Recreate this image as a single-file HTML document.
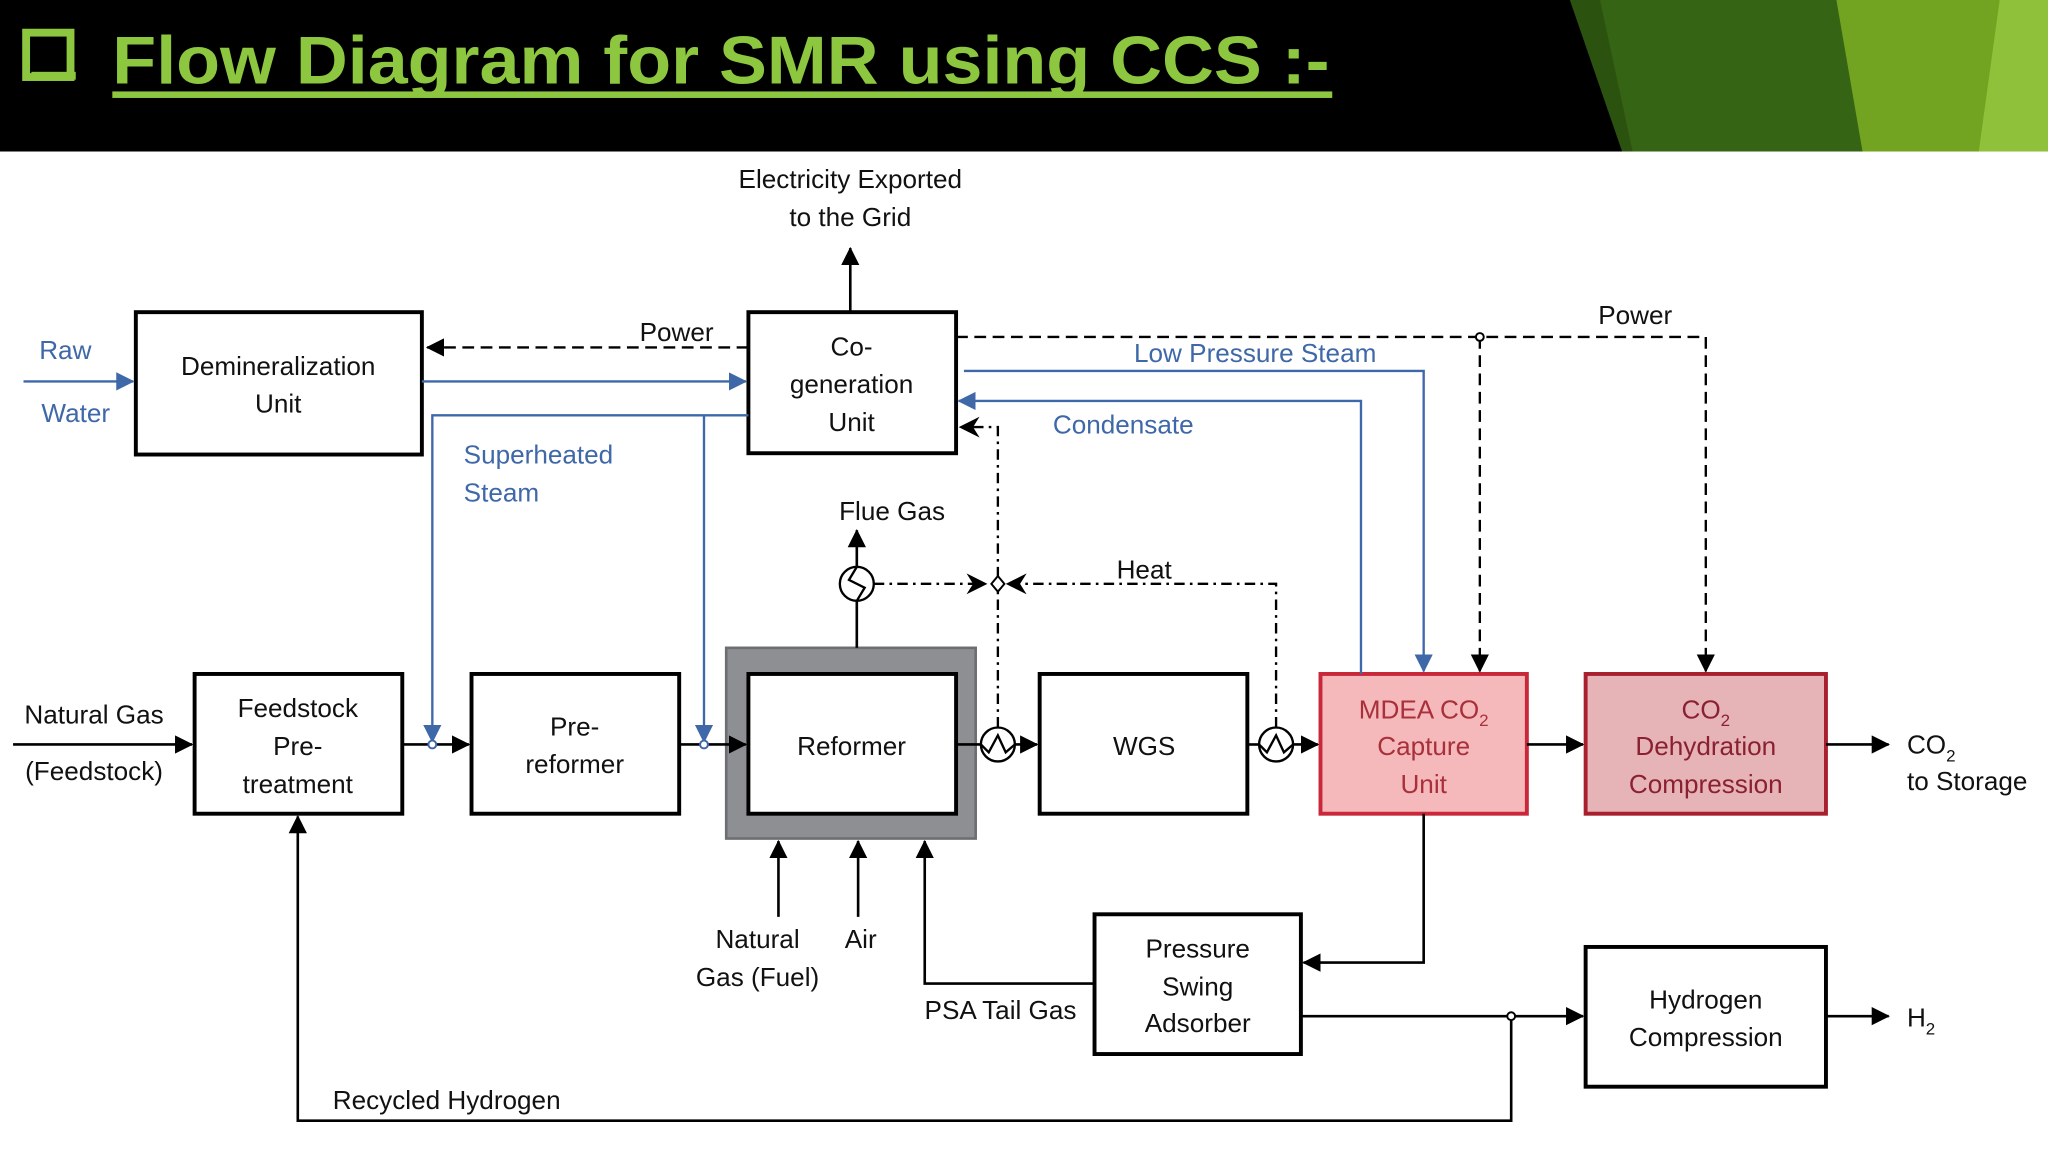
<!DOCTYPE html>
<html><head><meta charset="utf-8"><style>
html,body{margin:0;padding:0;background:#fff;}
svg{display:block;}
text{font-family:"Liberation Sans","DejaVu Sans",sans-serif;}
</style></head><body>
<svg width="2048" height="1152" viewBox="0 0 1568 882" preserveAspectRatio="none" xmlns="http://www.w3.org/2000/svg">
<defs>
<marker id="ab" markerWidth="10" markerHeight="10" refX="9" refY="5" orient="auto" markerUnits="userSpaceOnUse"><path d="M0,0 L10,5 L0,10 z" fill="#000"/></marker>
<marker id="ab2" markerWidth="14" markerHeight="14" refX="13" refY="7" orient="auto" markerUnits="userSpaceOnUse"><path d="M0,0 L14,7 L0,14 z" fill="#000"/></marker>
<marker id="abl" markerWidth="14" markerHeight="14" refX="13" refY="7" orient="auto" markerUnits="userSpaceOnUse"><path d="M0,0 L14,7 L0,14 z" fill="#3f68a8"/></marker>
<marker id="ah" markerWidth="16" markerHeight="16" refX="14" refY="8" orient="auto" markerUnits="userSpaceOnUse"><path d="M0,0 L16,8 L0,16 L5,8 z" fill="#000"/></marker>
</defs>
<!-- header -->
<rect x="0" y="0" width="1568" height="116" fill="#000"/>
<polygon points="1202,0 1568,0 1568,116 1242,116" fill="#356414"/>
<polygon points="1202,0 1225,0 1250,116 1242,116" fill="#2c5210"/>
<polygon points="1406,0 1568,0 1568,116 1426,116" fill="#72a321"/>
<polygon points="1531,0 1568,0 1568,116 1515,116" fill="#8fc23a"/>
<rect x="20" y="25" width="34" height="34" fill="none" stroke="#8dc63f" stroke-width="6"/>
<rect x="24" y="55" width="34" height="6" fill="#8dc63f"/>
<text x="86" y="64" font-size="52" font-weight="bold" fill="#8dc63f" textLength="932" lengthAdjust="spacingAndGlyphs">Flow Diagram for SMR using CCS :-</text>
<rect x="86" y="70" width="934" height="5" fill="#8dc63f"/>

<g font-size="20" fill="#111" text-anchor="middle">
<!-- boxes -->
<g fill="#fff" stroke="#000" stroke-width="3">
<rect x="104" y="239" width="219" height="109"/>
<rect x="573" y="239" width="159" height="108"/>
<rect x="149" y="516" width="159" height="107"/>
<rect x="361" y="516" width="159" height="107"/>
<rect x="796" y="516" width="159" height="107"/>
<rect x="838" y="700" width="158" height="107"/>
<rect x="1214" y="725" width="184" height="107"/>
</g>
<rect x="556" y="496" width="191" height="146" fill="#8e8f93" stroke="#6d6e72" stroke-width="2"/>
<rect x="573" y="516" width="159" height="107" fill="#fff" stroke="#000" stroke-width="3"/>
<rect x="1011" y="516" width="158" height="107" fill="#f5b8bb" stroke="#c8283a" stroke-width="3"/>
<rect x="1214" y="516" width="184" height="107" fill="#e6b3b7" stroke="#a8202e" stroke-width="3"/>

<text x="213" y="287">Demineralization</text><text x="213" y="316">Unit</text>
<text x="652" y="272">Co-</text><text x="652" y="301">generation</text><text x="652" y="330">Unit</text>
<text x="228" y="549">Feedstock</text><text x="228" y="578">Pre-</text><text x="228" y="607">treatment</text>
<text x="440" y="563">Pre-</text><text x="440" y="592">reformer</text>
<text x="652" y="578">Reformer</text>
<text x="876" y="578">WGS</text>
<text x="1090" y="550" fill="#a8303a">MDEA CO<tspan font-size="13" dy="6">2</tspan></text>
<text x="1090" y="578" fill="#a8303a">Capture</text><text x="1090" y="607" fill="#a8303a">Unit</text>
<text x="1306" y="550" fill="#8a2030">CO<tspan font-size="13" dy="6">2</tspan></text>
<text x="1306" y="578" fill="#8a2030">Dehydration</text><text x="1306" y="607" fill="#8a2030">Compression</text>
<text x="917" y="733">Pressure</text><text x="917" y="762">Swing</text><text x="917" y="790">Adsorber</text>
<text x="1306" y="772">Hydrogen</text><text x="1306" y="801">Compression</text>

<!-- labels -->
<text x="651" y="144">Electricity Exported</text><text x="651" y="173">to the Grid</text>
<text x="518" y="261">Power</text>
<text x="1252" y="248">Power</text>
<text x="683" y="398">Flue Gas</text>
<text x="876" y="443">Heat</text>
<text x="72" y="554">Natural Gas</text><text x="72" y="597">(Feedstock)</text>
<text x="580" y="726">Natural</text><text x="580" y="755">Gas (Fuel)</text>
<text x="659" y="726">Air</text>
<text x="766" y="780">PSA Tail Gas</text>
<text x="342" y="849">Recycled Hydrogen</text>
<text x="1460" y="577" text-anchor="start">CO<tspan font-size="13" dy="6">2</tspan></text>
<text x="1460" y="605" text-anchor="start">to Storage</text>
<text x="1460" y="786" text-anchor="start">H<tspan font-size="13" dy="6">2</tspan></text>
<g fill="#3f68a8">
<text x="50" y="275">Raw</text><text x="58" y="323">Water</text>
<text x="355" y="355" text-anchor="start">Superheated</text><text x="355" y="384" text-anchor="start">Steam</text>
<text x="961" y="277">Low Pressure Steam</text>
<text x="860" y="332">Condensate</text>
</g>
</g>

<!-- black solid lines -->
<g stroke="#000" stroke-width="2" fill="none">
<line x1="651" y1="239" x2="651" y2="190" marker-end="url(#ab2)"/>
<line x1="10" y1="570" x2="147" y2="570" marker-end="url(#ab2)"/>
<line x1="308" y1="570" x2="359" y2="570" marker-end="url(#ab2)"/>
<line x1="520" y1="570" x2="571" y2="570" marker-end="url(#ab2)"/>
<line x1="732" y1="570" x2="751" y2="570"/>
<line x1="777" y1="570" x2="794" y2="570" marker-end="url(#ab2)"/>
<line x1="955" y1="570" x2="964" y2="570"/>
<line x1="990" y1="570" x2="1009" y2="570" marker-end="url(#ab2)"/>
<line x1="1169" y1="570" x2="1212" y2="570" marker-end="url(#ab2)"/>
<line x1="1398" y1="570" x2="1446" y2="570" marker-end="url(#ab2)"/>
<line x1="1398" y1="778" x2="1446" y2="778" marker-end="url(#ab2)"/>
<line x1="996" y1="778" x2="1212" y2="778" marker-end="url(#ab2)"/>
<polyline points="1090,623 1090,737 998,737" marker-end="url(#ab2)"/>
<polyline points="838,753 708,753 708,644" marker-end="url(#ab2)"/>
<line x1="596" y1="702" x2="596" y2="644" marker-end="url(#ab2)"/>
<line x1="657" y1="702" x2="657" y2="644" marker-end="url(#ab2)"/>
<polyline points="1157,778 1157,858 228,858 228,625" marker-end="url(#ab2)"/>
<line x1="656" y1="496" x2="656" y2="460"/>
<line x1="656" y1="434" x2="656" y2="406" marker-end="url(#ab2)"/>
</g>
<circle cx="1157" cy="778" r="3" fill="#fff" stroke="#000" stroke-width="1.5"/>
<!-- heat exchangers -->
<g fill="#fff" stroke="#000" stroke-width="1.8">
<circle cx="656" cy="447" r="13"/><polyline points="656,434 650,444 662,450 656,460" fill="none"/>
<circle cx="764" cy="570" r="13"/><polyline points="751,570 757,576 764,563 770,576 777,570" fill="none"/>
<circle cx="977" cy="570" r="13"/><polyline points="964,570 970,576 977,563 983,576 990,570" fill="none"/>
</g>
<!-- dash-dot heat lines -->
<g stroke="#000" stroke-width="1.8" fill="none" stroke-dasharray="8,4,2,4">
<line x1="669" y1="447" x2="754" y2="447" marker-end="url(#ah)"/>
<polyline points="977,557 977,447 772,447" marker-end="url(#ah)"/>
<line x1="764" y1="557" x2="764" y2="452"/>
<polyline points="764,442 764,327 736,327" marker-end="url(#ah)"/>
</g>
<polygon points="764,441 769,447 764,453 759,447" fill="#fff" stroke="#000" stroke-width="1.5"/>
<!-- dashed power -->
<g stroke="#000" stroke-width="1.8" fill="none" stroke-dasharray="9,5">
<line x1="573" y1="266" x2="327" y2="266" marker-end="url(#ab2)"/>
<polyline points="732,258 1306,258 1306,514" marker-end="url(#ab2)"/>
<line x1="1133" y1="258" x2="1133" y2="514" marker-end="url(#ab2)"/>
</g>
<circle cx="1133" cy="258" r="3" fill="#fff" stroke="#000" stroke-width="1.5"/>
<!-- blue lines -->
<g stroke="#3f68a8" stroke-width="1.8" fill="none">
<line x1="18" y1="292" x2="102" y2="292" marker-end="url(#abl)"/>
<line x1="323" y1="292" x2="571" y2="292" marker-end="url(#abl)"/>
<polyline points="573,318 331,318 331,568" marker-end="url(#abl)"/>
<line x1="539" y1="318" x2="539" y2="568" marker-end="url(#abl)"/>
<polyline points="738,284 1090,284 1090,514" marker-end="url(#abl)"/>
<polyline points="1042,516 1042,307 734,307" marker-end="url(#abl)"/>
</g>
<circle cx="331" cy="570" r="3" fill="#fff" stroke="#3f68a8" stroke-width="1.5"/>
<circle cx="539" cy="570" r="3" fill="#fff" stroke="#3f68a8" stroke-width="1.5"/>
</svg>
</body></html>
